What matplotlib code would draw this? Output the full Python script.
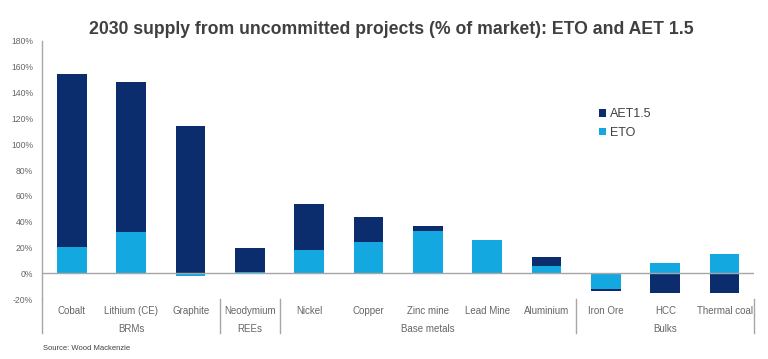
import matplotlib
matplotlib.use("Agg")
import matplotlib.pyplot as plt
from matplotlib.lines import Line2D

categories = ["Cobalt", "Lithium (CE)", "Graphite", "Neodymium", "Nickel", "Copper",
              "Zinc mine", "Lead Mine", "Aluminium", "Iron Ore", "HCC", "Thermal coal"]
eto = [20, 32, -2, 1, 18, 24, 32.5, 25.5, 6, -12, 8, 15]
aet_extra = [134.5, 116.5, 114.5, 18.5, 35.5, 19.5, 4.5, 0, 7, -2, -15.5, -15.5]
groups = [("BRMs", 0, 3), ("REEs", 3, 4), ("Base metals", 4, 9), ("Bulks", 9, 12)]
yticks = [-20, 0, 20, 40, 60, 80, 100, 120, 140, 160, 180]

DARK = "#0B2D6E"
LIGHT = "#14A8E0"
GRAY = "#666666"
LINE = "#A6A6A6"

plt.rcParams["font.family"] = ["Liberation Sans", "DejaVu Sans"]

W, H = 768, 359
fig = plt.figure(figsize=(W / 100, H / 100), dpi=100)
x0, x1 = 42.3, 754.3
ytop, ybot = 41.0, 299.1
ax = fig.add_axes([x0 / W, 1 - ybot / H, (x1 - x0) / W, (ybot - ytop) / H])

xs = list(range(len(categories)))
# Excel-style stacking: positives stack on positives, negatives on negatives
bottoms = []
for e, a in zip(eto, aet_extra):
    if (a >= 0 and e >= 0) or (a < 0 and e < 0):
        bottoms.append(e)
    else:
        bottoms.append(0)
ax.bar(xs, eto, width=0.5, color=LIGHT, label="ETO", zorder=2)
ax.bar(xs, aet_extra, width=0.5, bottom=bottoms, color=DARK, label="AET1.5", zorder=2)

ax.set_xlim(-0.5, len(categories) - 0.5)
ax.set_ylim(-20, 180)
ax.set_yticks(yticks)
ax.set_yticklabels([f"{v}%" for v in yticks], fontsize=6.2, color=GRAY)
ax.tick_params(axis="y", length=0, pad=6.7)
ax.set_xticks([])
for s in ["top", "right", "bottom"]:
    ax.spines[s].set_visible(False)
ax.spines["left"].set_color(LINE)
ax.spines["left"].set_linewidth(1.0)
ax.axhline(0, color=LINE, lw=1.0, zorder=3)

# category labels and group labels
cat_y = 1 - 311.5 / H
grp_y = 1 - 329 / H
for i, c in enumerate(categories):
    xf = (x0 + (i + 0.5) * (x1 - x0) / len(categories)) / W
    fig.text(xf, cat_y, c, ha="center", va="center", fontsize=7, color=GRAY)
seps = set()
for name, a, b in groups:
    xa = x0 + a * (x1 - x0) / len(categories)
    xb = x0 + b * (x1 - x0) / len(categories)
    fig.text((xa + xb) / 2 / W, grp_y, name, ha="center", va="center", fontsize=7, color=GRAY)
    seps.add(xa)
    seps.add(xb)
for xp in seps:
    fig.add_artist(Line2D([xp / W, xp / W], [1 - ybot / H, 1 - 333 / H],
                          color=LINE, lw=1.0, transform=fig.transFigure))

# legend
handles, labels = ax.get_legend_handles_labels()
leg = fig.legend(handles[::-1], labels[::-1], loc="upper left",
                 bbox_to_anchor=(588 / W, 1 - 97 / H), frameon=False,
                 fontsize=9, handlelength=0.55, handleheight=0.55,
                 handletextpad=0.3, labelspacing=0.55, labelcolor="#404040")

fig.text(391 / W, 1 - 30 / H, "2030 supply from uncommitted projects (% of market): ETO and AET 1.5",
         ha="center", va="center", fontsize=12.7, fontweight="bold", color="#404040")
fig.text(43 / W, 1 - 348 / H, "Source: Wood Mackenzie", ha="left", va="center",
         fontsize=5.5, color="#404040")

fig.savefig("out.png", dpi=100)
